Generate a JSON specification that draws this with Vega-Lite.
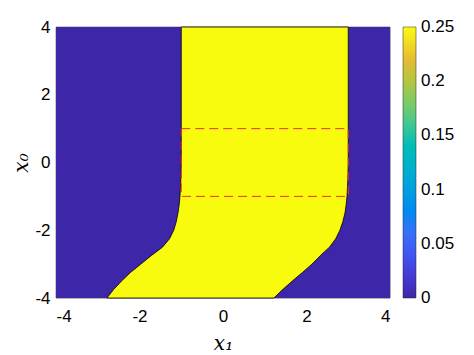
{
  "$schema": "https://vega.github.io/schema/vega-lite/v6.json",
  "width": 334,
  "height": 271,
  "autosize": "none",
  "padding": {"left": 56, "top": 27, "right": 84, "bottom": 57},
  "background": "white",
  "config": {
    "view": {"stroke": "#262626", "strokeWidth": 0.6},
    "axis": {
      "labelFont": "Liberation Sans",
      "labelFontSize": 17,
      "labelColor": "#000000",
      "labelExpr": "'' + datum.value",
      "domain": false,
      "grid": false,
      "ticks": false,
      "titleFont": "DejaVu Serif",
      "titleFontStyle": "italic",
      "titleFontWeight": "normal",
      "titleFontSize": 20,
      "titleColor": "#000000"
    },
    "legend": {
      "labelFont": "Liberation Sans",
      "labelFontSize": 17,
      "labelColor": "#000000"
    }
  },
  "datasets": {
    "bg": [{"xa": -4, "xb": 4, "ya": -4, "yb": 4, "z": 0}],
    "region": [
      {"x0": -4.0, "left": -2.78, "right": 1.22, "z": 0.25},
      {"x0": -3.75, "left": -2.62, "right": 1.43, "z": 0.25},
      {"x0": -3.5, "left": -2.43, "right": 1.66, "z": 0.25},
      {"x0": -3.25, "left": -2.22, "right": 1.9, "z": 0.25},
      {"x0": -3.0, "left": -1.97, "right": 2.13, "z": 0.25},
      {"x0": -2.75, "left": -1.72, "right": 2.33, "z": 0.25},
      {"x0": -2.5, "left": -1.45, "right": 2.55, "z": 0.25},
      {"x0": -2.25, "left": -1.28, "right": 2.7, "z": 0.25},
      {"x0": -2.0, "left": -1.18, "right": 2.8, "z": 0.25},
      {"x0": -1.75, "left": -1.12, "right": 2.87, "z": 0.25},
      {"x0": -1.5, "left": -1.08, "right": 2.92, "z": 0.25},
      {"x0": -1.25, "left": -1.05, "right": 2.95, "z": 0.25},
      {"x0": -1.0, "left": -1.03, "right": 2.97, "z": 0.25},
      {"x0": -0.5, "left": -1.01, "right": 2.99, "z": 0.25},
      {"x0": 0.0, "left": -1.0, "right": 3.0, "z": 0.25},
      {"x0": 4.0, "left": -1.0, "right": 3.0, "z": 0.25}
    ],
    "box": [{"xa": -1, "xb": 3, "ya": -1, "yb": 1}]
  },
  "layer": [
    {
      "data": {"name": "bg"},
      "mark": {"type": "rect"},
      "encoding": {
        "x": {"field": "xa", "type": "quantitative", "title": "x₁",
              "scale": {"domain": [-4, 4], "nice": false, "zero": false},
              "axis": {"values": [-4, -2, 0, 2, 4], "labelPadding": 10, "titlePadding": 9}},
        "x2": {"field": "xb"},
        "y": {"field": "ya", "type": "quantitative", "title": "x₀",
              "scale": {"domain": [-4, 4], "nice": false, "zero": false},
              "axis": {"values": [-4, -2, 0, 2, 4], "labelPadding": 6, "titlePadding": 3}},
        "y2": {"field": "yb"},
        "color": {
          "field": "z", "type": "quantitative",
          "scale": {
            "domain": [0, 0.03125, 0.0625, 0.09375, 0.125, 0.15625, 0.1875, 0.21875, 0.25],
            "range": ["#3E26A8", "#4648EC", "#3873FB", "#1F98E6", "#0DB3C8", "#38C59A", "#93CB55", "#E4BA33", "#F9FB0E"]
          },
          "legend": {
            "title": null,
            "type": "gradient",
            "direction": "vertical",
            "orient": "right",
            "offset": 13,
            "gradientLength": 271,
            "gradientThickness": 13,
            "gradientStrokeColor": "#262626",
            "gradientStrokeWidth": 0.5,
            "values": [0, 0.05, 0.1, 0.15, 0.2, 0.25],
            "format": "~g",
            "labelOffset": 5,
            "labelOverlap": false,
            "encode": {"labels": {"update": {"baseline": {"value": "middle"}}}}
          }
        }
      }
    },
    {
      "data": {"name": "region"},
      "mark": {"type": "area", "orient": "horizontal", "stroke": "#000000", "strokeWidth": 0.8, "fillOpacity": 1},
      "encoding": {
        "y": {"field": "x0", "type": "quantitative", "title": "x₀"},
        "x": {"field": "left", "type": "quantitative", "title": "x₁"},
        "x2": {"field": "right"},
        "color": {"field": "z", "type": "quantitative"}
      }
    },
    {
      "data": {"name": "box"},
      "mark": {"type": "rect", "filled": false, "stroke": "#F2301E", "strokeWidth": 1, "strokeDash": [9, 5]},
      "encoding": {
        "x": {"field": "xa", "type": "quantitative", "title": "x₁"},
        "x2": {"field": "xb"},
        "y": {"field": "ya", "type": "quantitative", "title": "x₀"},
        "y2": {"field": "yb"}
      }
    }
  ]
}
